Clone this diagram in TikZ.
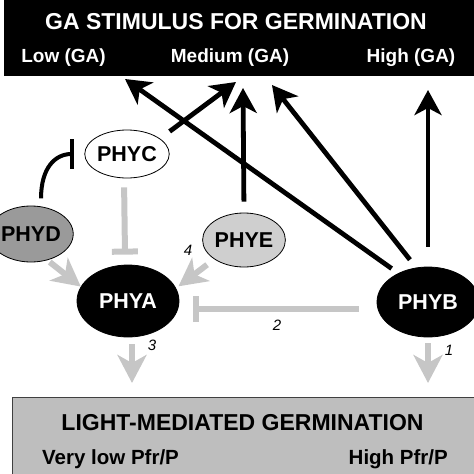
\documentclass[tikz,border=0pt]{standalone}
\usepackage{fontspec}
\setmainfont{Liberation Sans}
\usetikzlibrary{arrows.meta,shapes.geometric}
\definecolor{lg}{HTML}{C6C6C6}
\definecolor{boxgray}{HTML}{BEBEBE}
\definecolor{dgray}{HTML}{9A9A9A}
\definecolor{egray}{HTML}{CFCFCF}
\begin{document}
\begin{tikzpicture}[x=1pt,y=-1pt,
  phy/.style={ellipse, draw=black, line width=0.8pt, inner sep=0pt, font=\fontsize{21.5}{25}\selectfont\bfseries},
  blk/.style={line width=4.8pt, -{Stealth[length=25pt,width=27pt,inset=7pt]}},
  gry/.style={draw=lg, line width=6pt, -{Stealth[length=28pt,width=29pt,inset=8pt]}},
  gbar/.style={draw=lg, line width=6pt, -{Bar[width=26pt]}},
  num/.style={font=\fontsize{15}{17}\selectfont\itshape, inner sep=0pt},
  head/.style={anchor=base, inner sep=0pt, font=\fontsize{23}{26}\selectfont\bfseries},
  sub/.style={anchor=base, inner sep=0pt, font=\fontsize{19}{22}\selectfont\bfseries}]
\useasboundingbox (0,0) rectangle (474,474);
% boxes
\fill[black] (4,0) rectangle (480,76);
\filldraw[fill=boxgray, draw=black!75, line width=1pt] (12,397) rectangle (480,480);
\node[head, text=white] (gatitle) at (236,29) {GA STIMULUS FOR GERMINATION};
\node[sub, text=white] (low) at (63.5,62) {Low (GA)};
\node[sub, text=white] (med) at (230,62) {Medium (GA)};
\node[sub, text=white] (high) at (411,62) {High (GA)};
\node[head] (lmtitle) at (242.5,430) {LIGHT-MEDIATED GERMINATION};
\node[sub, anchor=base west, font=\fontsize{20.5}{24}\selectfont\bfseries] (vlow) at (42,464) {Very low Pfr/P};
\node[sub, anchor=base east, font=\fontsize{20.5}{24}\selectfont\bfseries] (hpfr) at (448,464) {High Pfr/P};
% phytochromes
\node[phy, fill=white, minimum width=74pt, minimum height=48pt] (phyc) at (127,154) {PHYC};
\node[phy, fill=dgray, minimum width=76pt, minimum height=56pt] (phyd) at (31,234) {PHYD};
\node[phy, fill=egray, minimum width=74pt, minimum height=54pt] (phye) at (244,240) {PHYE};
\node[phy, fill=black, text=white, minimum width=102pt, minimum height=72pt] (phya) at (128,301) {PHYA};
\node[phy, fill=black, text=white, minimum width=102pt, minimum height=70pt] (phyb) at (428,302) {PHYB};
% tips in GA box
\coordinate (tlow) at (125,79);
\coordinate (tmedc) at (236,82);
\coordinate (tmede) at (243,88);
\coordinate (tmedb) at (272,85);
\coordinate (thigh) at (428,90);
% black arrows
\draw[blk, shorten <=8pt] (phyb.136) -- (tlow);
\draw[blk, shorten <=10pt] (phyb.109) -- (tmedb);
\draw[blk, shorten <=20pt] (phyb.north) -- (thigh);
\draw[blk, shorten <=11pt] (phye.north) -- (tmede);
\draw[blk, shorten <=12pt] (phyc.25) -- (tmedc);
\draw[line width=4pt, -{Bar[width=30pt]}] ([yshift=8pt]phyd.70) .. controls (41,168) and (55,154) .. ([xshift=-10pt]phyc.west);
% grey connectors
\draw[gbar, shorten <=9pt] ([xshift=-3pt]phyc.south) -- ([xshift=-3pt,yshift=10pt]phya.north);
\draw[gry, shorten <=3pt] (phyd.-58) -- (phya.163);
\draw[gry, shorten <=9pt, shorten >=3pt] (phye.213) -- (phya.15);
\coordinate (inh) at ([xshift=14pt,yshift=-8pt]phya.east);
\draw[gbar, shorten <=18pt] (phyb.west |- inh) -- (inh);
\coordinate (ga) at (132,383);
\coordinate (gb) at (428,383);
\draw[gry, shorten <=7pt] ([xshift=4pt]phya.south) -- (ga);
\draw[gry, shorten <=6pt] (phyb.south) -- (gb);
% numbers
\node[num] (n1) at (449,350) {1};
\node[num] (n2) at (277,325) {2};
\node[num] (n3) at (152,345) {3};
\node[num] (n4) at (188,250) {4};
\end{tikzpicture}
\end{document}
